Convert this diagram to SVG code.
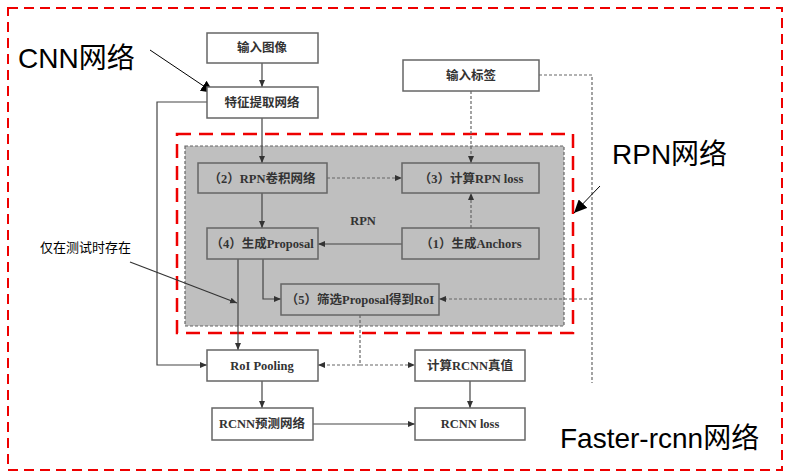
<svg xmlns="http://www.w3.org/2000/svg" width="790" height="474" viewBox="0 0 790 474">
<style>
.b{fill:#fff;stroke:#666;stroke-width:1.5}
.g{fill:#bfbfbf;stroke:#666;stroke-width:1.5}
.t{font-family:"Liberation Serif","Noto Sans CJK SC",serif;font-size:12.5px;font-weight:bold;fill:#333;text-anchor:middle}
.s{fill:none;stroke:#444;stroke-width:1.2}
.d{fill:none;stroke:#666;stroke-width:1.2;stroke-dasharray:3,2}
.big{font-family:"Liberation Sans","Noto Sans CJK SC",sans-serif;font-size:28px;fill:#000}
</style>
<defs>
<marker id="a" markerWidth="8" markerHeight="8" refX="7" refY="4" orient="auto" markerUnits="userSpaceOnUse"><path d="M0,1L7,4L0,7z" fill="#333"/></marker>
<marker id="ab" markerWidth="14" markerHeight="12" refX="13" refY="6" orient="auto" markerUnits="userSpaceOnUse"><path d="M0,0L13,6L0,12z" fill="#000"/></marker>
</defs>
<rect x="0" y="0" width="790" height="474" fill="#fff"/>
<rect x="8" y="8" width="774" height="462" fill="none" stroke="#e00" stroke-width="2" stroke-dasharray="10,6"/>
<g id="rpn-region">
<rect x="177" y="134" width="396" height="199" fill="none" stroke="#e00" stroke-width="2.5" stroke-dasharray="14,8"/>
<rect x="185" y="146" width="379" height="180" fill="#bfbfbf" stroke="#666" stroke-width="1.2" stroke-dasharray="3,2"/>
<text x="363" y="225" class="t">RPN</text>
</g>
<g id="connectors">
<line x1="262" y1="63" x2="262" y2="87" class="s" marker-end="url(#a)"/>
<line x1="262" y1="118" x2="262" y2="163" class="s" marker-end="url(#a)"/>
<line x1="471" y1="91" x2="471" y2="163" class="d" marker-end="url(#a)"/>
<line x1="327" y1="178" x2="402" y2="178" class="d" marker-end="url(#a)"/>
<line x1="262" y1="193" x2="262" y2="228" class="s" marker-end="url(#a)"/>
<line x1="471" y1="228" x2="471" y2="193" class="d" marker-end="url(#a)"/>
<line x1="402" y1="244" x2="318" y2="244" class="s" marker-end="url(#a)"/>
<polyline points="263,259 263,299 281,299" class="s" marker-end="url(#a)"/>
<line x1="238" y1="259" x2="238" y2="350" class="s" marker-end="url(#a)"/>
<polyline points="207,102 157,102 157,365 207,365" class="s" marker-end="url(#a)"/>
<polyline points="539,75 592,75 592,383" class="d"/>
<line x1="592" y1="299" x2="439" y2="299" class="d" marker-end="url(#a)"/>
<line x1="360" y1="315" x2="360" y2="365" class="d"/>
<line x1="360" y1="365" x2="318" y2="365" class="d" marker-end="url(#a)"/>
<line x1="360" y1="365" x2="415" y2="365" class="d" marker-end="url(#a)"/>
<line x1="262" y1="381" x2="262" y2="408" class="s" marker-end="url(#a)"/>
<line x1="470" y1="381" x2="470" y2="408" class="s" marker-end="url(#a)"/>
<line x1="313" y1="424" x2="415" y2="424" class="s" marker-end="url(#a)"/>
<line x1="150" y1="50" x2="214" y2="93" stroke="#000" stroke-width="1" marker-end="url(#ab)"/>
<line x1="600" y1="186" x2="574" y2="213" stroke="#000" stroke-width="1" marker-end="url(#ab)"/>
<line x1="130" y1="262" x2="237" y2="303" stroke="#333" stroke-width="1.2" marker-end="url(#a)"/>
</g>
<g id="n-input"><rect x="207" y="33" width="111" height="30" class="b"/><text x="262" y="52" class="t">输入图像</text></g>
<g id="n-feat"><rect x="207" y="87" width="111" height="31" class="b"/><text x="262" y="107" class="t">特征提取网络</text></g>
<g id="n-label"><rect x="403" y="60" width="136" height="31" class="b"/><text x="471" y="80" class="t">输入标签</text></g>
<g id="n2"><rect x="198" y="163" width="129" height="30" class="g"/><text x="262" y="183" class="t">（2）RPN卷积网络</text></g>
<g id="n3"><rect x="402" y="163" width="137" height="30" class="g"/><text x="471" y="183" class="t">（3）计算RPN loss</text></g>
<g id="n4"><rect x="207" y="228" width="111" height="31" class="g"/><text x="262" y="248" class="t">（4）生成Proposal</text></g>
<g id="n1"><rect x="402" y="228" width="137" height="31" class="g"/><text x="471" y="248" class="t">（1）生成Anchors</text></g>
<g id="n5"><rect x="281" y="284" width="158" height="31" class="g"/><text x="360" y="304" class="t">（5）筛选Proposal得到RoI</text></g>
<g id="n-roi"><rect x="207" y="350" width="111" height="31" class="b"/><text x="262" y="370" class="t">RoI Pooling</text></g>
<g id="n-gt"><rect x="415" y="350" width="110" height="31" class="b"/><text x="470" y="370" class="t">计算RCNN真值</text></g>
<g id="n-pred"><rect x="212" y="408" width="101" height="32" class="b"/><text x="262" y="428" class="t">RCNN预测网络</text></g>
<g id="n-loss"><rect x="415" y="408" width="110" height="32" class="b"/><text x="470" y="428" class="t">RCNN loss</text></g>
<g id="labels">
<text x="18" y="68" class="big">CNN网络</text>
<text x="612" y="164" class="big">RPN网络</text>
<text x="40" y="252" font-family="Liberation Sans,Noto Sans CJK SC,sans-serif" font-size="13" fill="#000">仅在测试时存在</text>
<text x="560" y="448" class="big">Faster-rcnn网络</text>
</g>
</svg>
